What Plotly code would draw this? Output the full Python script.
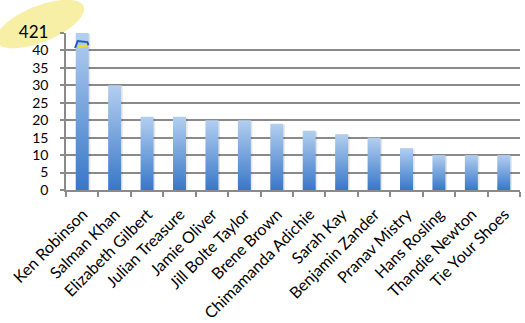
import math
import plotly.graph_objects as go

speakers = ["Ken Robinson", "Salman Khan", "Elizabeth Gilbert", "Julian Treasure",
            "Jamie Oliver", "Jill Bolte Taylor", "Brene Brown", "Chimamanda Adichie",
            "Sarah Kay", "Benjamin Zander", "Pranav Mistry", "Hans Rosling",
            "Thandie Newton", "Tie Your Shoes"]
views = [421, 30, 21, 21, 20, 20, 19, 17, 16, 15, 12, 10, 10, 10]
y_tick_values = [0, 5, 10, 15, 20, 25, 30, 35, 40]
y_tick_labels = ["0", "5", "10", "15", "20", "25", "30", "35", "40"]
break_label = "421"

AXIS_TOP = 45           # axis is broken: top gridline stands for the outlier
BAR_HALF = 0.2
W, H = 525, 323
ML, MR, MT, MB = 66, 5, 33, 133
PW, PH = W - ML - MR, H - MT - MB
FONT = "Lato"
GRAY = "#8a8a8a"

fig = go.Figure()
for i, (name, v) in enumerate(zip(speakers, views)):
    h = min(v, AXIS_TOP)
    xs = [i - BAR_HALF, i + BAR_HALF, i + BAR_HALF, i - BAR_HALF, i - BAR_HALF]
    ys = [0, 0, h, h, 0]
    # soft shadow
    fig.add_trace(go.Scatter(x=[x + 0.05 for x in xs], y=[0, 0, h - 0.3, h - 0.3, 0],
                             mode="lines", line=dict(width=0), fill="toself",
                             fillcolor="rgba(0,0,0,0.10)", hoverinfo="skip",
                             showlegend=False))
    fig.add_trace(go.Scatter(x=xs, y=ys, mode="lines", line=dict(width=0),
                             fill="toself",
                             fillgradient=dict(type="vertical",
                                               colorscale=[[0, "#3877c8"], [1, "#b3cff0"]],
                                               start=0, stop=h),
                             name=name, text=[f"{name}: {v}"] * 5, hoverinfo="text",
                             showlegend=False))

# axis-break symbol on the outlier bar
fig.add_shape(type="path", xref="x", yref="y",
              path="M -0.13,40.9 L 0.21,41.6",
              line=dict(color="#f2dc2a", width=2.5), layer="above")
fig.add_shape(type="path", xref="x", yref="y",
              path="M -0.22,40.7 L -0.14,42.7 L 0.16,42.4 L 0.19,41.5",
              line=dict(color="#1f5cb8", width=2), layer="above")

# yellow highlighter blob behind the break label (pixel geometry -> paper)
cx, cy, a, b, ang = 40, 24, 47, 18, math.radians(-22)
pts = []
for k in range(48):
    t = 2 * math.pi * k / 48
    px = cx + a * math.cos(t) * math.cos(ang) - b * math.sin(t) * math.sin(ang)
    py = cy + a * math.cos(t) * math.sin(ang) + b * math.sin(t) * math.cos(ang)
    pts.append(((px - ML) / PW, (MT + PH - py) / PH))
path = "M " + " L ".join(f"{x:.4f},{y:.4f}" for x, y in pts) + " Z"
fig.add_shape(type="path", xref="paper", yref="paper", path=path,
              fillcolor="rgba(246,236,150,0.85)", line=dict(width=0), layer="below")

fig.update_layout(
    width=W, height=H, margin=dict(l=ML, r=MR, t=MT, b=MB, autoexpand=False),
    paper_bgcolor="white", plot_bgcolor="white",
    font=dict(family=FONT, size=16, color="black"),
    showlegend=False,
)
fig.update_xaxes(
    range=[-0.5, len(speakers) - 0.5], tickmode="array",
    tickvals=[i + 0.02 for i in range(len(speakers))], ticktext=speakers, tickangle=-45,
    ticks="", showgrid=False, zeroline=False, showline=True, linecolor=GRAY, linewidth=1.5,
    minor=dict(tickmode="array", tickvals=[i - 0.5 for i in range(len(speakers) + 1)],
               ticks="outside", ticklen=5, tickcolor=GRAY, tickwidth=1.5, showgrid=False),
    tickfont=dict(family=FONT, size=16), ticklabelstandoff=7, automargin=False,
)
fig.update_yaxes(
    range=[0, AXIS_TOP], tickmode="array",
    tickvals=y_tick_values + [AXIS_TOP],
    ticktext=y_tick_labels + [f"<span style='font-size:17px'>{break_label}</span>"],
    ticks="outside", ticklen=4, tickcolor=GRAY, tickwidth=1.5,
    showgrid=True, gridcolor=GRAY, gridwidth=1.5, zeroline=False,
    showline=True, linecolor=GRAY, linewidth=1.5, automargin=False,
    tickfont=dict(family=FONT, size=14), ticklabelstandoff=9,
)

fig.write_html("out.html")
